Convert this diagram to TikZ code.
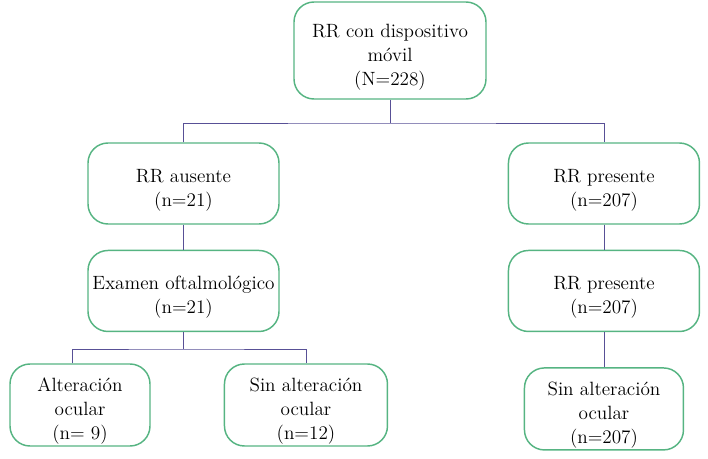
\documentclass[tikz,border=0pt]{standalone}
\usepackage{xcolor}
\usetikzlibrary{positioning}
\definecolor{boxgreen}{RGB}{86,180,130}
\definecolor{linkblue}{RGB}{88,80,150}
\newcommand{\upgap}{\rule{0pt}{20pt}}

\begin{document}
\begin{tikzpicture}[x=0.75pt, y=-0.75pt, node distance=18.75pt,
  font=\fontsize{14.4}{18}\selectfont,
  box/.style={draw=boxgreen, line width=1.1pt, rounded corners=15pt, align=center,
    minimum width=143.25pt, minimum height=60.75pt, inner xsep=1pt, inner ysep=0.5pt},
  link/.style={draw=linkblue, line width=0.7pt}]
  \useasboundingbox (0,0) rectangle (708,458);
  \node[box, minimum width=144pt, minimum height=72.75pt] (root) at (390,50.5) {\upgap RR con dispositivo\\móvil\\(N=228)};
  \node[box] (ausente) at (183.5,183.5) {\upgap RR ausente\\(n=21)};
  \node[box, below=of ausente] (examen) {\upgap Examen oftalmológico\\(n=21)};
  \node[box, right=171pt of ausente] (presente) {\upgap RR presente\\(n=207)};
  \node[box, below=of presente] (presente2) {\upgap RR presente\\(n=207)};
  \node[box, minimum width=119.25pt, minimum height=61.5pt, below=26.25pt of presente2] (sinder) {\upgap Sin alteración\\ocular\\(n=207)};
  \node[box, minimum width=105pt, minimum height=61.5pt] (alter) at (80,405) {\upgap Alteración\\ocular\\(n= 9)};
  \node[box, minimum width=122.25pt, minimum height=61.5pt, right=54.75pt of alter] (sinizq) {\upgap Sin alteración\\ocular\\(n=12)};
  % buses
  \coordinate (bus1) at (390,123);
  \coordinate (bus2) at (183.5,349);
  \draw[link] (root) -- (bus1);
  \draw[link] (ausente.north) |- (bus1) -| (presente.north);
  \draw[link] (ausente) -- (examen);
  \draw[link] (presente) -- (presente2);
  \draw[link] (presente2) -- (sinder);
  \draw[link] (examen) -- (bus2);
  \draw[link] ([xshift=-6pt]alter.north) |- (bus2) -| (sinizq.north);
\end{tikzpicture}
\end{document}
